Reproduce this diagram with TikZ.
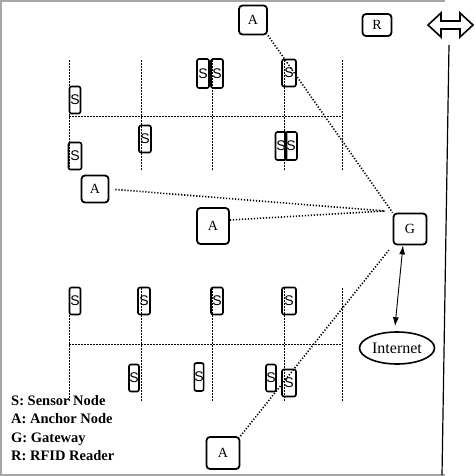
\documentclass[tikz,border=0pt]{standalone}
\usepackage{fontspec}
\setmainfont{Liberation Serif}
\newfontfamily\sensorfont{Liberation Sans}
\usetikzlibrary{arrows.meta, shapes.geometric}

\begin{document}
\begin{tikzpicture}[x=1pt, y=-1pt,
        box/.style={draw, line width=1.8pt, rounded corners=3.5pt, inner sep=0pt, font=\fontsize{14}{14}\selectfont},
        sensor/.style={draw, line width=1.6pt, rounded corners=2pt, inner sep=0pt, minimum width=12pt, minimum height=27pt, font=\sensorfont\fontsize{14}{14}\selectfont},
        gridline/.style={line width=0.6pt, dash pattern=on 2pt off 1pt},
        link/.style={line width=1.6pt, dash pattern=on 1.2pt off 1.8pt}]
        \useasboundingbox (0,0) rectangle (474,476);
        % frame
        \draw[gray!70, line width=2.5pt] (445,1) -- (1,1) -- (1,475) -- (445,475);
        \draw[line width=1.2pt] (449,45) -- (442,475);
        \draw[line width=1.6pt] (428,25) -- (441,13) -- (441,21) -- (460,21) -- (460,13) -- (473,25)
            -- (460,37) -- (460,29) -- (441,29) -- (441,37) -- cycle;
        % grids
        \foreach \x in {69,141,212,284,342} {
            \draw[gridline] (\x,60) -- (\x,171);
            \draw[gridline] (\x,288) -- (\x,402);
        }
        \draw[gridline] (69,116) -- (342,116);
        \draw[gridline] (69,344) -- (342,344);
        % sensor nodes
        \node[sensor, minimum width=11pt] (s1) at (75,100) {S};
        \node[sensor, minimum width=13pt] (s2) at (75,156) {S};
        \node[sensor] (s3) at (145,139) {S};
        \node[sensor, minimum height=29pt] (s4) at (203,73.5) {S};
        \node[sensor, minimum height=29pt] (s5) at (217,73.5) {S};
        \node[sensor, minimum width=14pt] (s6) at (289,73) {S};
        \node[sensor, minimum width=11pt, minimum height=28pt] (s7) at (281,146) {S};
        \node[sensor, minimum height=28pt] (s8) at (291,146) {S};
        \node[sensor, minimum width=11pt] (s9) at (75,301) {S};
        \node[sensor] (s10) at (144,301) {S};
        \node[sensor] (s11) at (217,301) {S};
        \node[sensor, minimum width=14pt] (s12) at (289,301) {S};
        \node[sensor, minimum width=10pt] (s13) at (134,378) {S};
        \node[sensor, minimum width=9pt, minimum height=28pt] (s14) at (199,377) {S};
        \node[sensor, minimum width=10pt] (s15) at (271,378) {S};
        \node[sensor, minimum width=14pt] (s16) at (289,383) {S};
        % anchors, gateway, reader
        \node[box, minimum width=28pt, minimum height=29pt] (a1) at (253,20) {A};
        \node[box, minimum width=27pt, minimum height=27pt] (a2) at (95,189) {A};
        \node[box, minimum width=32pt, minimum height=36pt] (a3) at (213,226) {A};
        \node[box, minimum width=33pt, minimum height=32pt] (a4) at (223,453) {A};
        \node[box, minimum width=33pt, minimum height=31pt] (g) at (410,229) {G};
        \node[box, minimum width=29pt, minimum height=22pt] (r) at (377,25) {R};
        \node[draw, ellipse, line width=1.6pt, inner sep=0pt, minimum width=75pt, minimum height=32pt,
            font=\fontsize{16}{16}\selectfont] (inet) at (397,348) {Internet};
        \coordinate (hub) at (385,211);
        % links
        \draw[link] (a1.south east) -- (g.north west);
        \draw[link, shorten <=6pt] (a2.east) -- (hub);
        \draw[link] ([yshift=6pt]a3.east) -- (hub);
        \draw[link, shorten >=6pt] (a4.north east) -- (g.south west);
        \draw[{Latex[length=9pt,width=6pt]}-{Latex[length=9pt,width=6pt]}, line width=0.9pt]
            ([xshift=-7pt]g.south) -- ([xshift=-2pt, yshift=5pt]inet.north);
        % legend
        \node[anchor=west, align=left, inner sep=0pt, font=\bfseries\fontsize{14.5}{18.5}\selectfont] (key) at (11,428)
            {S: Sensor Node\\A: Anchor Node\\G: Gateway\\R: RFID Reader};
\end{tikzpicture}
\end{document}
